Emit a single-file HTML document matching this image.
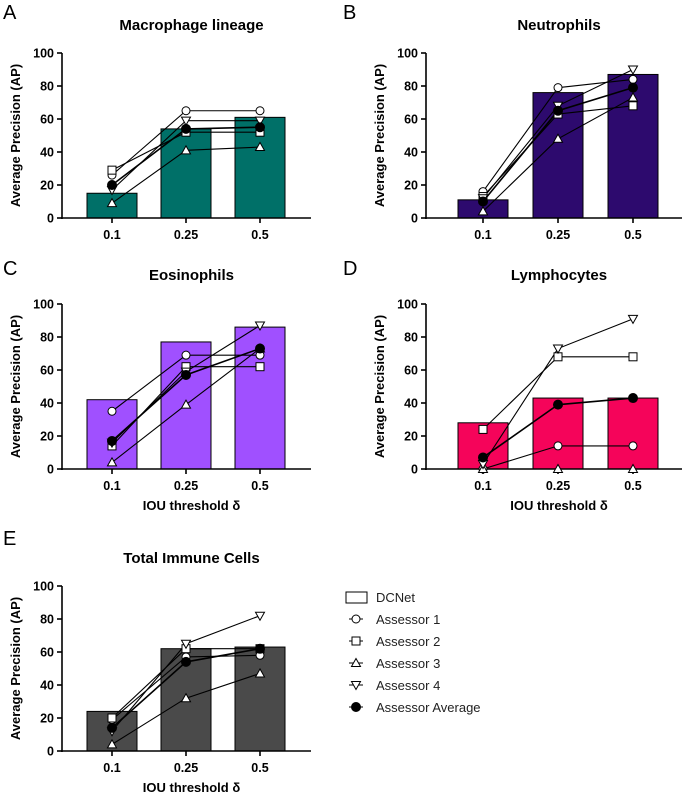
<!DOCTYPE html>
<html><head><meta charset="utf-8">
<style>
html,body{margin:0;padding:0;background:#fff;}
svg{display:block;font-family:"Liberation Sans",Arial,sans-serif;}
</style></head>
<body>
<svg id="fig" width="685" height="794" viewBox="0 0 685 794"></svg>
<script>
const categories = ["0.1","0.25","0.5"];
const yTicks = [0,20,40,60,80,100];
const panelTitles = ["Macrophage lineage","Neutrophils","Eosinophils","Lymphocytes","Total Immune Cells"];
const dcnetA = [15,54,61], a1A=[26,65,65], a2A=[29,52,52], a3A=[9,41,43], a4A=[17,59,59], avgA=[20,54,55];
const dcnetB = [11,76,87], a1B=[16,79,84], a2B=[13,63,68], a3B=[4,48,73], a4B=[12,68,90], avgB=[10,65,79];
const dcnetC = [42,77,86], a1C=[35,69,69], a2C=[14,62,62], a3C=[4,39,73], a4C=[16,59,87], avgC=[17,57,73];
const dcnetD = [28,43,43], a1D=[0,14,14], a2D=[24,68,68], a3D=[0,0,0], a4D=[3,73,91], avgD=[7,39,43];
const dcnetE = [24,62,63], a1E=[19,57,58], a2E=[20,62,62], a3E=[4,32,47], a4E=[12,65,82], avgE=[14,54,62];

const NS="http://www.w3.org/2000/svg";
const svg=document.getElementById('fig');
function el(tag,attrs,parent){const e=document.createElementNS(NS,tag);for(const k in attrs)e.setAttribute(k,attrs[k]);(parent||svg).appendChild(e);return e;}
function txt(x,y,s,attrs,parent){const t=el('text',Object.assign({x:x,y:y},attrs),parent);t.textContent=s;return t;}

function marker(g,type,x,y){
  let m;
  if(type==='circle'){m=el('circle',{cx:x,cy:y,r:4,fill:'#fff',stroke:'#000','stroke-width':1},g);}
  else if(type==='square'){m=el('rect',{x:x-4,y:y-4,width:8,height:8,fill:'#fff',stroke:'#000','stroke-width':1},g);}
  else if(type==='up'){m=el('polygon',{points:`${x},${y-4.5} ${x-4.5},${y+3.5} ${x+4.5},${y+3.5}`,fill:'#fff',stroke:'#000','stroke-width':1},g);}
  else if(type==='down'){m=el('polygon',{points:`${x},${y+4.5} ${x-4.5},${y-3.5} ${x+4.5},${y-3.5}`,fill:'#fff',stroke:'#000','stroke-width':1},g);}
  else {m=el('circle',{cx:x,cy:y,r:4.5,fill:'#000',stroke:'#000','stroke-width':1},g);}
  return m;
}

function panel(opt){
  const g=el('g',{});
  
  
  const ax=opt.ax, y0=opt.y0, y100=opt.y100, xs=opt.xs, xEnd=opt.xEnd;
  const yScale=v=>y0-(y0-y100)*v/100;
  const xScale=i=>xs[i];
  txt(opt.letterX,opt.letterY,opt.letter,{'font-size':20,fill:'#000'},g);
  const tt=txt((ax+xEnd)/2+5,opt.titleY,opt.title,{'font-size':15,'font-weight':'bold','text-anchor':'middle'},g);
  
  opt.bars.forEach((v,i)=>{
    const b=el('rect',{x:xScale(i)-25,y:yScale(v),width:50,height:y0-yScale(v),fill:opt.color,stroke:'#000','stroke-width':1},g);
    
    
  });
  el('line',{x1:ax,y1:y100,x2:ax,y2:y0+1,stroke:'#000','stroke-width':1.6},g);
  el('line',{x1:ax-1,y1:y0,x2:xEnd,y2:y0,stroke:'#000','stroke-width':1.6},g);
  yTicks.forEach(t=>{
    const y=yScale(t);
    el('line',{x1:ax-5,y1:y,x2:ax,y2:y,stroke:'#000','stroke-width':1.6},g);
    const l=txt(ax-8,y+4.5,String(t),{'font-size':12.5,'font-weight':'bold','text-anchor':'end'},g);
    
  });
  categories.forEach((c,i)=>{
    el('line',{x1:xScale(i),y1:y0,x2:xScale(i),y2:y0+5,stroke:'#000','stroke-width':1.6},g);
    const l=txt(xScale(i),y0+21,c,{'font-size':12.5,'font-weight':'bold','text-anchor':'middle'},g);
    
  });
  const yt=txt(0,0,'Average Precision (AP)',{'font-size':13,'font-weight':'bold','text-anchor':'middle',transform:`translate(${ax-42},${(y0+y100)/2}) rotate(-90)`},g);
  
  if(opt.xTitle){const xt=txt((ax+xEnd)/2+5,y0+41,'IOU threshold δ',{'font-size':13,'font-weight':'bold','text-anchor':'middle'},g);}
  const series=[[opt.a1,'circle','assessor-1'],[opt.a2,'square','assessor-2'],[opt.a3,'up','assessor-3'],[opt.a4,'down','assessor-4'],[opt.avg,'dot','assessor-average']];
  series.forEach(([vals,type,name])=>{
    const sg=el('g',{},g);
    
    
    const pts=vals.map((v,i)=>xScale(i)+','+yScale(v)).join(' ');
    el('polyline',{points:pts,fill:'none',stroke:'#000','stroke-width':type==='dot'?1.6:1.1},sg);
  });
  series.forEach(([vals,type,name])=>{
    vals.forEach((v,i)=>{
      const m=marker(g,type,xScale(i),yScale(v));
      
      
    });
  });
}

panel({letter:'A',letterX:3,letterY:19,title:panelTitles[0],titleY:30,ax:62,y0:218,y100:53,xs:[112,186,260],xEnd:311,color:'#007068',bars:dcnetA,a1:a1A,a2:a2A,a3:a3A,a4:a4A,avg:avgA,xTitle:false});
panel({letter:'B',letterX:343,letterY:19,title:panelTitles[1],titleY:30,ax:426,y0:218,y100:53,xs:[483,558,633],xEnd:682,color:'#2d0a6e',bars:dcnetB,a1:a1B,a2:a2B,a3:a3B,a4:a4B,avg:avgB,xTitle:false});
panel({letter:'C',letterX:3,letterY:275,title:panelTitles[2],titleY:280,ax:62,y0:469,y100:304,xs:[112,186,260],xEnd:311,color:'#a050ff',bars:dcnetC,a1:a1C,a2:a2C,a3:a3C,a4:a4C,avg:avgC,xTitle:true});
panel({letter:'D',letterX:343,letterY:275,title:panelTitles[3],titleY:280,ax:426,y0:469,y100:304,xs:[483,558,633],xEnd:682,color:'#f5045a',bars:dcnetD,a1:a1D,a2:a2D,a3:a3D,a4:a4D,avg:avgD,xTitle:true});
panel({letter:'E',letterX:3,letterY:545,title:panelTitles[4],titleY:563,ax:62,y0:751,y100:586,xs:[112,186,260],xEnd:311,color:'#4a4a4a',bars:dcnetE,a1:a1E,a2:a2E,a3:a3E,a4:a4E,avg:avgE,xTitle:true});

const lg=el('g',{});


const legendLabels=['DCNet','Assessor 1','Assessor 2','Assessor 3','Assessor 4','Assessor Average'];
const legendTypes=['box','circle','square','up','down','dot'];
legendLabels.forEach((lab,i)=>{
  const y=597+i*22;
  const eg=el('g',{},lg);
  
  
  if(legendTypes[i]==='box'){el('rect',{x:346,y:y-5,width:21,height:11,fill:'#fff',stroke:'#000','stroke-width':1},eg);}
  else{el('line',{x1:349,y1:y,x2:363,y2:y,stroke:'#000','stroke-width':1},eg);marker(eg,legendTypes[i],356,y);}
  txt(376,y+5,lab,{'font-size':13,fill:'#222'},eg);
});
</script>
</body></html>
